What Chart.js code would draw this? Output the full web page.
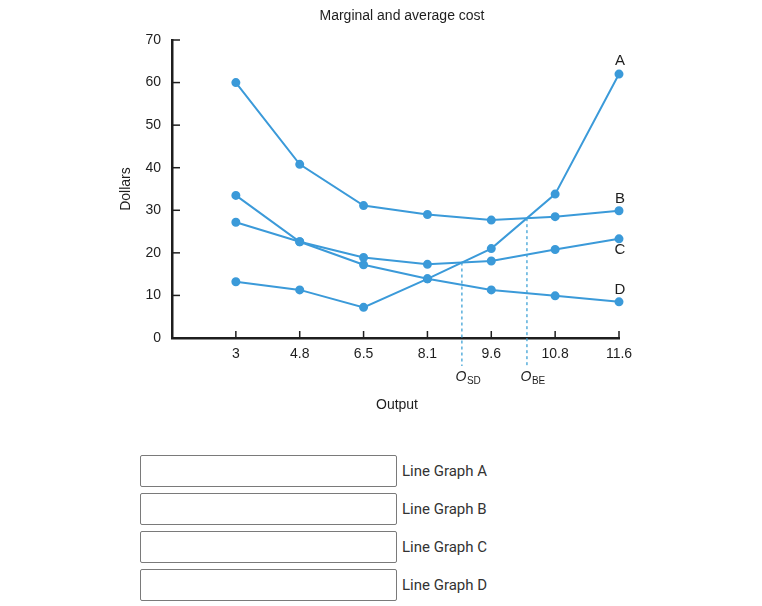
<!DOCTYPE html>
<html>
<head>
<meta charset="utf-8">
<script src="https://cdn.jsdelivr.net/npm/chart.js@4.4.1/dist/chart.umd.min.js"></script>
<style>
  body { margin: 0; background: #fff; width: 762px; height: 606px; position: relative; overflow: hidden; }
  #wrap { position: absolute; left: 0; top: 0; width: 762px; height: 430px; }
  .row { position: absolute; left: 140px; height: 32px; display: flex; align-items: center; }
  .row input { box-sizing: border-box; width: 257px; height: 32px; border: 1px solid #7a7a7a; border-radius: 2px; margin: 0; }
  .row span { margin-left: 5px; font: 15px Roboto, sans-serif; color: #333; }
</style>
</head>
<body>
<div id="wrap"><canvas id="costChart" width="762" height="430"></canvas></div>
<div class="row" style="top:455px"><input type="text"><span>Line Graph A</span></div>
<div class="row" style="top:493px"><input type="text"><span>Line Graph B</span></div>
<div class="row" style="top:531px"><input type="text"><span>Line Graph C</span></div>
<div class="row" style="top:569px"><input type="text"><span>Line Graph D</span></div>
<script>
// output levels on the x axis (evenly spaced in the picture)
const outputLabels = ['3', '4.8', '6.5', '8.1', '9.6', '10.8', '11.6'];
const yTicks = [0, 10, 20, 30, 40, 50, 60, 70];

// dollars
const lineA = [13.2, 11.3, 7.2, 13.9, 21.0, 33.8, 62.0];
const lineB = [60.0, 40.8, 31.1, 29.0, 27.7, 28.5, 29.9];
const lineC = [27.2, 22.6, 18.9, 17.3, 18.1, 20.8, 23.3];
const lineD = [33.5, 22.6, 17.2, 13.9, 11.3, 9.9, 8.5];
const lineNames = ['A', 'B', 'C', 'D'];

const blue = '#3b9ad9';
const ink = '#1e1e1e';
const font = '"Liberation Sans", Arial, sans-serif';

function toPoints(arr) {
    return arr.map((v, i) => ({ x: i, y: v }));
}

function makeSet(name, arr) {
    return {
        label: name, data: toPoints(arr), borderColor: blue, backgroundColor: blue,
        borderWidth: 2, pointRadius: 3.5, pointHoverRadius: 3.5, tension: 0, clip: false
    };
}

// where two lines cross between index i and i+1
function crossing(a, b, i) {
    const da = a[i + 1] - a[i], db = b[i + 1] - b[i];
    const t = (b[i] - a[i]) / (da - db);
    return { x: i + t, y: a[i] + da * t };
}

const extras = {
    id: 'extras',
    afterDatasetsDraw(chart) {
        const { ctx, chartArea, scales } = chart;
        const x = scales.x, y = scales.y;
        ctx.save();
        // inward tick marks
        ctx.strokeStyle = ink;
        ctx.lineWidth = 1.5;
        yTicks.forEach(v => {
            const py = y.getPixelForValue(v);
            ctx.beginPath(); ctx.moveTo(chartArea.left, py); ctx.lineTo(chartArea.left + 8, py); ctx.stroke();
        });
        outputLabels.forEach((_, i) => {
            const px = x.getPixelForValue(i);
            ctx.beginPath(); ctx.moveTo(px, chartArea.bottom); ctx.lineTo(px, chartArea.bottom - 7); ctx.stroke();
        });

        // O_SD and O_BE guides
        const marks = [
            { p: crossing(lineA, lineC, 3), sub: 'SD' },
            { p: crossing(lineA, lineB, 4), sub: 'BE' }
        ];
        marks.forEach(m => {
            const px = x.getPixelForValue(m.p.x);
            const py = y.getPixelForValue(m.p.y);
            ctx.strokeStyle = '#3fa2d6';
            ctx.lineWidth = 1.3;
            ctx.setLineDash([3, 3]);
            ctx.beginPath(); ctx.moveTo(px, py); ctx.lineTo(px, chartArea.bottom + 28); ctx.stroke();
            ctx.setLineDash([]);
            ctx.fillStyle = ink;
            ctx.textBaseline = 'middle';
            ctx.textAlign = 'center';
            ctx.font = 'italic 14px ' + font;
            ctx.fillText('O', px - 1, chartArea.bottom + 39);
            ctx.textAlign = 'left';
            ctx.font = '10px ' + font;
            ctx.fillText(m.sub, px + 5, chartArea.bottom + 43);
        });

        // line letters at the right end
        ctx.fillStyle = ink;
        ctx.font = '15px ' + font;
        ctx.textAlign = 'center';
        ctx.textBaseline = 'middle';
        const offsets = [-13, -12, 11, -12];
        [lineA, lineB, lineC, lineD].forEach((arr, k) => {
            const last = arr.length - 1;
            ctx.fillText(lineNames[k], x.getPixelForValue(last) + 1, y.getPixelForValue(arr[last]) + offsets[k]);
        });

        // titles
        ctx.font = '14px ' + font;
        ctx.fillText('Marginal and average cost', 402, 16);
        ctx.fillText('Output', 397, 405);
        ctx.translate(126, (chartArea.top + chartArea.bottom) / 2);
        ctx.rotate(-Math.PI / 2);
        ctx.fillText('Dollars', 0, 0);
        ctx.restore();
    }
};

new Chart(document.getElementById('costChart'), {
    type: 'line',
    data: {
        datasets: [makeSet('A', lineA), makeSet('B', lineB), makeSet('C', lineC), makeSet('D', lineD)]
    },
    plugins: [extras],
    options: {
        responsive: false,
        animation: false,
        events: [],
        layout: { padding: { top: 40, right: 143, left: 0, bottom: 0 } },
        plugins: { legend: { display: false }, title: { display: false }, tooltip: { enabled: false } },
        scales: {
            x: {
                type: 'linear', min: -1, max: 6,
                afterBuildTicks: s => { s.ticks = outputLabels.map((_, i) => ({ value: i })); },
                afterFit: s => { s.height = 92; },
                ticks: {
                    callback: v => outputLabels[v],
                    color: ink, font: { family: font, size: 14 }, padding: 8, maxRotation: 0, autoSkip: false
                },
                grid: { display: false, drawTicks: false },
                border: { display: true, color: ink, width: 2.5 }
            },
            y: {
                min: 0, max: 70,
                afterBuildTicks: s => { s.ticks = yTicks.map(v => ({ value: v })); },
                afterFit: s => { s.width = 172; },
                ticks: { color: ink, font: { family: font, size: 14 }, padding: 11 },
                grid: { display: false, drawTicks: false },
                border: { display: true, color: ink, width: 2.5 }
            }
        }
    }
});
</script>
</body>
</html>
